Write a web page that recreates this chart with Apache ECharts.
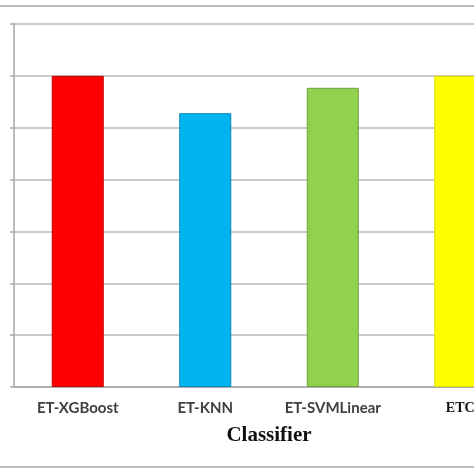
<!DOCTYPE html>
<html>
<head>
<meta charset="utf-8">
<script src="https://cdn.jsdelivr.net/npm/echarts@6/dist/echarts.min.js"></script>
<style>
  html, body { margin: 0; padding: 0; background: #fff; overflow: hidden; width: 474px; height: 474px; }
  #main { width: 524px; height: 474px; }
</style>
</head>
<body>
<div id="main"></div>
<script>
var classifiers = ['ET-XGBoost', 'ET-KNN', 'ET-SVMLinear', 'ETC'];
var scores = [60, 52.8, 57.7, 60];
var barColors = ['#ff0000', '#00b4f0', '#92d050', '#ffff00'];
var barEdges = ['#c00000', '#0088b8', '#6e9e3a', '#e0e000'];

var myChart = echarts.init(document.getElementById('main'));

var barData = scores.map(function (v, i) {
    return {
        value: v,
        itemStyle: { color: barColors[i], borderColor: barEdges[i], borderWidth: 1 }
    };
});

// the chart is wider than the window, so the last bar is cut off at the right edge
var option = {
    animation: false,
    backgroundColor: '#fff',
    grid: { left: 14, right: 0, top: 24, bottom: 87 },
    graphic: [
        { type: 'line', shape: { x1: 0, y1: 6, x2: 524, y2: 6 }, style: { stroke: '#a6a6a6', lineWidth: 1.5 } },
        { type: 'line', shape: { x1: 0, y1: 467, x2: 524, y2: 467 }, style: { stroke: '#a6a6a6', lineWidth: 1.5 } }
    ],
    xAxis: {
        type: 'category',
        data: classifiers,
        name: 'Classifier',
        nameLocation: 'middle',
        nameGap: 38,
        nameTextStyle: { fontFamily: 'Liberation Serif', fontWeight: 'bold', fontSize: 21, color: '#111' },
        axisLine: { lineStyle: { color: '#a6a6a6', width: 1.5 } },
        axisTick: { show: false },
        axisLabel: {
            margin: 14,
            fontFamily: 'Lato',
            fontWeight: 'bold',
            fontSize: 15,
            color: '#404040',
            formatter: function (v) {
                return v === 'ETC' ? '{s|' + v + '}' : v;
            },
            rich: {
                s: { fontFamily: 'Liberation Serif', fontWeight: 'bold', fontSize: 14, color: '#111' }
            }
        }
    },
    yAxis: {
        type: 'value',
        min: 0,
        max: 70,
        interval: 10,
        axisLine: { show: true, lineStyle: { color: '#a6a6a6', width: 1.5 } },
        axisTick: { show: true, length: 4, lineStyle: { color: '#a6a6a6', width: 1.5 } },
        axisLabel: { show: false },
        splitLine: { lineStyle: { color: '#b8b8b8', width: 1.5 } }
    },
    series: [
        {
            type: 'bar',
            barWidth: 52,
            data: barData
        }
    ]
};
myChart.setOption(option);
</script>
</body>
</html>
